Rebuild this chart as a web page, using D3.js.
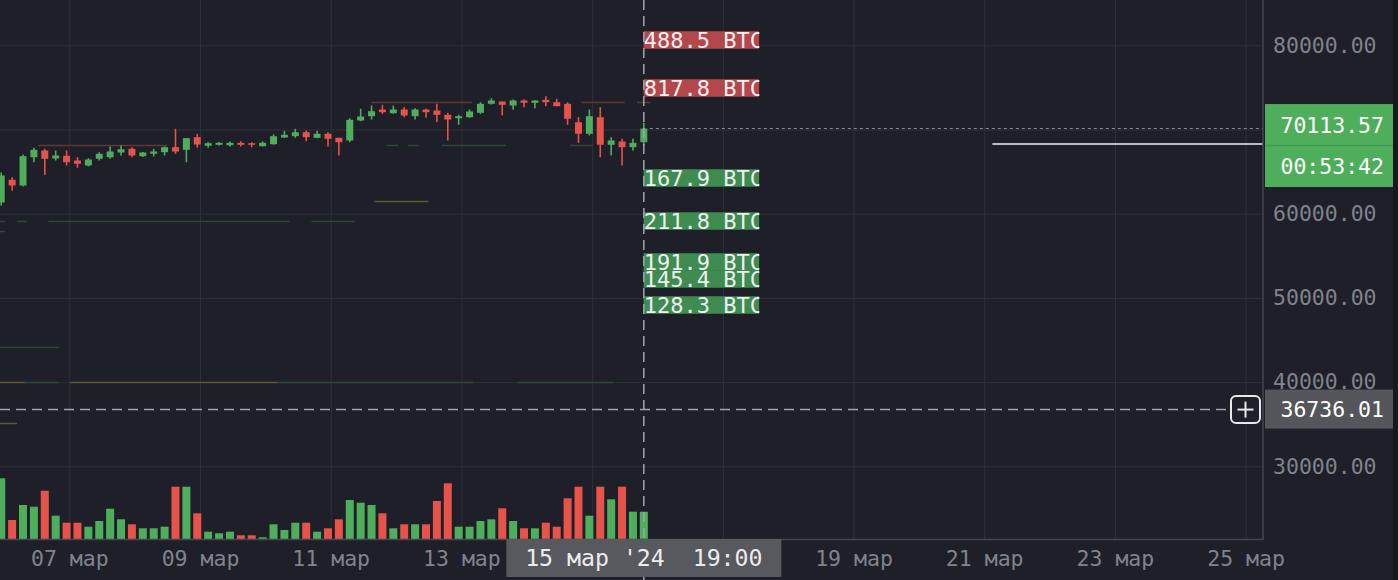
<!DOCTYPE html>
<html><head><meta charset="utf-8">
<script src="https://cdn.jsdelivr.net/npm/d3@7"></script>
<style>html,body{margin:0;padding:0;background:#1e1f28;overflow:hidden}</style>
</head><body><svg id="c" width="1398" height="580"></svg>
<script>
// ---------- DATA ----------
const candleStart = "2024-03-05T23:00"; // MSK, 4h candles
const candleStepHours = 4;
const opens = [61331,64026,63350,66710,67506,66556,66877,66318,65725,66520,
66710,67269,67708,66829,67114,67304,67898,67589,69086,68064,
68183,68135,68420,68373,68017,68254,69050,69204,69679,69014,
69489,69014,68694,71069,71580,72375,71936,72375,71580,72375,
72256,71746,71342,71461,71983,73052,73325,72850,73444,73171,
73527,73242,73052,70867,69489,71461,68183,68575,67898,68492];
const highs = [64893,64335,67031,67827,67708,67506,67506,66710,66591,67304,
67981,68100,67898,67328,67708,67981,70083,68967,69489,68492,
68516,68575,68611,68492,68575,69406,69846,70083,69881,69846,
69679,69014,71342,72458,72850,72934,72850,72648,72530,72458,
73052,71983,71746,72375,73242,73717,73325,73563,73563,73444,
73955,73646,73242,71461,72375,72648,69086,68896,68896,70796];
const lows = [60974,62756,63231,66117,64620,66318,65725,65451,65606,66318,
66520,66912,66710,66734,66794,66912,67114,66117,67827,67827,
68100,67981,67981,67898,67981,68183,68990,69014,68611,68967,
67981,66912,68492,70986,71188,71865,71865,71461,71188,71389,
70867,68694,70558,71389,71865,72969,71663,72375,72648,72530,
72767,72767,70558,68420,69287,66710,66912,65725,67506,68100];
const closes = [64537,63350,66829,67589,66520,66912,66117,65926,66437,67114,
67387,67660,66912,67269,67387,67898,67387,68967,68219,68373,
68420,68420,68183,68183,68420,69204,69371,69679,69086,69489,
68896,68492,71152,71544,72173,72055,72375,71663,72375,72055,
71746,71188,71580,72138,73052,73444,72934,73444,73171,73444,
73242,72767,71271,69489,71580,68183,68694,67898,68420,70113.57];
const volumes = [30850,10000,17500,16650,24650,12150,8650,8650,6650,9500,
15650,10350,7850,5850,5850,6650,26650,26650,13350,4150,
3350,4150,2350,2350,1350,7850,5000,8650,8650,4150,
5850,10350,20000,18650,17500,13350,5850,7850,7850,7850,
19500,28350,6650,6650,9500,10350,15850,9500,5850,5850,
8650,6650,20850,26650,12150,26650,20350,26650,14150,14150];

const priceTicks = [30000,40000,50000,60000,70000,80000];
const dateTicks = ["2024-03-07","2024-03-09","2024-03-11","2024-03-13","2024-03-15",
                   "2024-03-17","2024-03-19","2024-03-21","2024-03-23","2024-03-25"];
const dateTickLabels = ["07 мар","09 мар","11 мар","13 мар","15 мар",
                        "17 мар","19 мар","21 мар","23 мар","25 мар"];

const lastPrice = 70113.57;
const countdown = "00:53:42";
const crossPrice = 36736.01;
const crossTime = "2024-03-15T19:00";
const crossTimeLabel = "15 мар '24  19:00";

const orderTexts  = ["488.5 BTC","817.8 BTC","167.9 BTC","211.8 BTC","191.9 BTC","145.4 BTC","128.3 BTC"];
const orderPrices = [80629,74929,64240,59133,54264,52245,49157];
const orderSides  = ["ask","ask","bid","bid","bid","bid","bid"];

// faint order-level segments on the chart
const levelPrices = [68100,73325,73325,73325,68100,68100,68100,68100,61449,
                     59110,59110,59110,59110,58000,44146,40037,40037,40037,40037,40037,35123];
const levelStarts = ["2024-03-06T12:30","2024-03-11T15:00","2024-03-14T20:00","2024-03-15T16:30",
                     "2024-03-11T20:36","2024-03-12T04:24","2024-03-12T16:48","2024-03-14T15:54",
                     "2024-03-11T16:06","2024-03-05T22:30","2024-03-06T04:48","2024-03-06T16:18",
                     "2024-03-10T16:54","2024-03-05T22:30","2024-03-05T22:30","2024-03-05T22:30",
                     "2024-03-06T07:42","2024-03-07T00:15","2024-03-10T04:18","2024-03-13T20:24",
                     "2024-03-05T22:30"];
const levelEnds   = ["2024-03-08T12:00","2024-03-13T04:00","2024-03-15T12:00","2024-03-15T21:30",
                     "2024-03-12T00:48","2024-03-12T08:24","2024-03-13T16:24","2024-03-15T00:18",
                     "2024-03-12T11:54","2024-03-06T00:24","2024-03-06T08:30","2024-03-10T08:54",
                     "2024-03-11T08:54","2024-03-06T00:24","2024-03-06T20:12","2024-03-06T07:42",
                     "2024-03-06T20:12","2024-03-10T04:18","2024-03-13T04:24","2024-03-15T07:54",
                     "2024-03-06T04:48"];
const levelKinds  = ["brown","brown","brown","brown","green","green","green","green","olive",
                     "green","green","green","green","green","green","olive","green","olive","green","green","olive"];

const userLinePrice = 68280;
const userLineStart = "2024-03-21T03:00";

// ---------- HELPERS ----------
const parseT = s => { const [d,t] = s.split("T"); const [Y,M,D] = d.split("-").map(Number);
  const [h,m] = (t||"00:00").split(":").map(Number); return new Date(Date.UTC(Y,M-1,D,h,m)); };
const t0 = parseT(candleStart).getTime();
const candles = opens.map((o,i)=>({t:new Date(t0 + i*candleStepHours*3600e3), o, h:highs[i], l:lows[i], c:closes[i], v:volumes[i]}));

// ---------- LAYOUT ----------
const W = 1398, H = 580;
const plotR = 1263, plotB = 540;
const bg = "#1e1f28", grid = "#2f3039", axisText = "#80838c", border = "#44464f";
const up = "#4fae5c", down = "#e5534b";
const fontMono = "'DejaVu Sans Mono', monospace";

const x = d3.scaleUtc().domain([parseT(dateTicks[0]), parseT(dateTicks[dateTicks.length-1])]).range([69.3, 1245.6]);
const y = d3.scaleLinear().domain([30000, 80000]).range([466.3, 45.3]);
const yv = d3.scaleLinear().domain([0, 40000]).range([plotB, 460]);

const cx = x(parseT(crossTime)), cyy = y(crossPrice), ly = y(lastPrice);
const crossBoxW = 275;

const svg = d3.select("#c");
svg.append("rect").attr("width",W).attr("height",H).attr("fill",bg);
svg.append("rect").attr("x",1393).attr("width",5).attr("height",H).attr("fill","#17181e");

const defs = svg.append("defs");
defs.append("clipPath").attr("id","plot").append("rect").attr("x",0).attr("y",0).attr("width",plotR).attr("height",plotB);

// grid
const gGrid = svg.append("g");
gGrid.append("g").attr("transform",`translate(0,${plotB})`)
  .call(d3.axisBottom(x).tickValues(dateTicks.map(parseT)).tickSize(-plotB).tickFormat(""))
  .call(g=>{g.select(".domain").remove(); g.selectAll("line").attr("stroke",grid).attr("stroke-width",1);});
gGrid.append("g")
  .call(d3.axisLeft(y).tickValues(priceTicks).tickSize(-plotR).tickFormat(""))
  .call(g=>{g.select(".domain").remove(); g.selectAll("line").attr("stroke",grid).attr("stroke-width",1);});

const plot = svg.append("g").attr("clip-path","url(#plot)");

// faint levels
const levelColor = {brown:"#5b3b2c", green:"#2c4a33", olive:"#5a5a2e"};
plot.append("g").selectAll("line").data(levelPrices).join("line")
  .attr("x1",(d,i)=>x(parseT(levelStarts[i]))).attr("x2",(d,i)=>x(parseT(levelEnds[i])))
  .attr("y1",d=>Math.round(y(d))+0.5).attr("y2",d=>Math.round(y(d))+0.5)
  .attr("stroke",(d,i)=>levelColor[levelKinds[i]]).attr("stroke-width",1.5);

// volume
const bw = 8;
plot.append("g").selectAll("rect").data(candles).join("rect")
  .attr("x",d=>x(d.t)-bw/2).attr("width",bw)
  .attr("y",d=>yv(d.v)).attr("height",d=>plotB-yv(d.v))
  .attr("fill",d=>d.c>=d.o?up:down);

// candles
const cg = plot.append("g");
cg.selectAll("line").data(candles).join("line")
  .attr("x1",d=>x(d.t)).attr("x2",d=>x(d.t)).attr("y1",d=>y(d.h)).attr("y2",d=>y(d.l))
  .attr("stroke",d=>d.c>=d.o?up:down).attr("stroke-width",1.6);
cg.selectAll("rect").data(candles).join("rect")
  .attr("x",d=>x(d.t)-3.5).attr("width",7)
  .attr("y",d=>y(Math.max(d.o,d.c))).attr("height",d=>Math.max(1.5,Math.abs(y(d.o)-y(d.c))))
  .attr("fill",d=>d.c>=d.o?up:down);

// current price dotted line
const lastT = candles[candles.length-1].t;
plot.append("line").attr("x1",x(lastT)+6).attr("x2",plotR).attr("y1",ly).attr("y2",ly)
  .attr("stroke","#8a8c93").attr("stroke-width",1).attr("stroke-dasharray","3,3");

// user horizontal line
plot.append("line").attr("x1",x(parseT(userLineStart))).attr("x2",plotR).attr("y1",y(userLinePrice)).attr("y2",y(userLinePrice))
  .attr("stroke","#f2f2f2").attr("stroke-width",1.6);

// order labels
const oxl = cx - 0.5, ow = 116, oh = 17.5;
defs.append("clipPath").attr("id","oclip").append("rect").attr("x",oxl).attr("y",0).attr("width",ow).attr("height",plotB);
const og = svg.append("g").attr("clip-path","url(#oclip)");
orderPrices.forEach((p,i)=>{
  const c = y(p);
  og.append("rect").attr("x",oxl).attr("y",c-oh/2).attr("width",ow).attr("height",oh)
    .attr("fill",orderSides[i]==="ask"?"#b4474b":"#3e8c51");
  og.append("text").attr("x",oxl+0.5).attr("y",c+7.8).text(orderTexts[i])
    .attr("font-family",fontMono).attr("font-size",22).attr("fill","#eeeeee");
});

// horizontal crosshair
svg.append("line").attr("x1",0).attr("x2",plotR).attr("y1",cyy).attr("y2",cyy)
  .attr("stroke","#a3a5ac").attr("stroke-width",1.5).attr("stroke-dasharray","10,6");

// borders
svg.append("line").attr("x1",0).attr("x2",plotR).attr("y1",plotB-0.5).attr("y2",plotB-0.5).attr("stroke",border).attr("stroke-width",1.5);
svg.append("line").attr("x1",plotR).attr("x2",plotR).attr("y1",0).attr("y2",plotB).attr("stroke",border).attr("stroke-width",1.5);

// time axis labels (those hidden under the crosshair label are not drawn)
const visDates = dateTicks.map(parseT).filter(d=>Math.abs(x(d)-cx) > crossBoxW/2 + 20);
svg.append("g").attr("transform",`translate(0,${plotB})`)
  .call(d3.axisBottom(x).tickValues(visDates).tickSize(0).tickPadding(0)
    .tickFormat(d=>dateTickLabels[dateTicks.map(parseT).findIndex(e=>+e===+d)]))
  .call(g=>{g.select(".domain").remove();
    g.selectAll("text").attr("y",26).attr("dy",0).attr("fill",axisText).attr("font-family",fontMono).attr("font-size",21.5);});

// price axis labels (those hidden under the price tags are not drawn)
const visPrices = priceTicks.filter(p=>!(y(p) > ly-30 && y(p) < ly+62) && !(y(p) > cyy-20 && y(p) < cyy+20));
svg.append("g").attr("transform",`translate(${plotR},0)`)
  .call(d3.axisRight(y).tickValues(visPrices).tickSize(0).tickPadding(10).tickFormat(d3.format(".2f")))
  .call(g=>{g.select(".domain").remove();
    g.selectAll("text").attr("fill",axisText).attr("font-family",fontMono).attr("font-size",21.5);});

// vertical crosshair
svg.append("line").attr("x1",cx).attr("x2",cx).attr("y1",0).attr("y2",H)
  .attr("stroke","#a3a5ac").attr("stroke-width",1.5).attr("stroke-dasharray","10,6");

// bottom crosshair label
svg.append("rect").attr("x",cx-crossBoxW/2).attr("y",plotB-1).attr("width",crossBoxW).attr("height",38).attr("fill","#58595e");
svg.append("text").attr("x",cx).attr("y",plotB+26).attr("text-anchor","middle").text(crossTimeLabel)
  .attr("font-family",fontMono).attr("font-size",23.2).attr("fill","#ececec").style("white-space","pre");

// price labels on axis
svg.append("rect").attr("x",plotR+2).attr("y",ly-24.5).attr("width",128).attr("height",83).attr("fill","#4fae5c");
svg.append("line").attr("x1",plotR+2).attr("x2",plotR+130).attr("y1",ly+17).attr("y2",ly+17).attr("stroke","#449a50").attr("stroke-width",1.5);
svg.append("text").attr("x",1384).attr("y",ly+4.5).attr("text-anchor","end").text(d3.format(".2f")(lastPrice))
  .attr("font-family",fontMono).attr("font-size",21.5).attr("fill","#ffffff");
svg.append("text").attr("x",1384).attr("y",ly+45.5).attr("text-anchor","end").text(countdown)
  .attr("font-family",fontMono).attr("font-size",21.5).attr("fill","#ffffff");

svg.append("rect").attr("x",plotR+2).attr("y",cyy-20).attr("width",128).attr("height",39).attr("fill","#55565b");
svg.append("text").attr("x",1384).attr("y",cyy+7).attr("text-anchor","end").text(d3.format(".2f")(crossPrice))
  .attr("font-family",fontMono).attr("font-size",21.5).attr("fill","#ffffff");

// plus button
const pb = svg.append("g").attr("transform",`translate(1245.5,${cyy})`);
pb.append("rect").attr("x",-14.5).attr("y",-13.5).attr("width",29).attr("height",27).attr("rx",5)
  .attr("fill",bg).attr("stroke","#e8e8e8").attr("stroke-width",2);
pb.append("line").attr("x1",-8).attr("x2",8).attr("y1",0).attr("y2",0).attr("stroke","#e8e8e8").attr("stroke-width",2);
pb.append("line").attr("x1",0).attr("x2",0).attr("y1",-8).attr("y2",8).attr("stroke","#e8e8e8").attr("stroke-width",2);
</script></body></html>
